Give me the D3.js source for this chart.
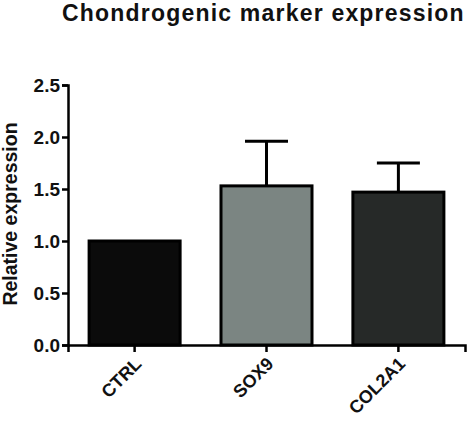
<!DOCTYPE html>
<html>
<head>
<meta charset="utf-8">
<script src="https://cdn.jsdelivr.net/npm/d3@7"></script>
<style>
  body { margin: 0; background: #fff; }
  svg text { font-family: "Liberation Sans", Arial, sans-serif; font-weight: bold; }
</style>
</head>
<body>
<svg id="chart" width="474" height="422"></svg>
<script>
// Chondrogenic marker expression (bar + upper SD)

let categories = ["CTRL", "SOX9", "COL2A1"];
let means = [1.0, 1.53, 1.47];
let errTop = [1.0, 1.96, 1.75];
let fills = ["#0b0b0b", "#7b8582", "#262928"];
let yTicks = [0, 0.5, 1.0, 1.5, 2.0, 2.5];

let data = categories.map(function(c, i) {
    return { name: c, value: means[i], upper: errTop[i], fill: fills[i] };
});

let margin = {top: 85, right: 9, bottom: 77, left: 68},
    width = 474 - margin.left - margin.right,
    height = 422 - margin.top - margin.bottom;

let svg = d3.select("#chart");

let chart = svg.append("g")
    .attr("transform", "translate(" + margin.left + "," + margin.top + ")");

// scales
let xScale = d3.scaleBand()
    .domain(categories)
    .range([0, 397])
    .paddingInner(0.31)
    .paddingOuter(0.16);

let yScale = d3.scaleLinear()
    .domain([0, 2.5])
    .range([height, 0]);

// error bars (upper only) drawn under the bars
let cap = 43;
chart.selectAll(".err")
    .data(data.filter(d => d.upper > d.value))
    .join("g")
    .attr("class", "err")
    .each(function(d) {
        let cx = xScale(d.name) + xScale.bandwidth() / 2;
        let g = d3.select(this);
        g.append("line")
            .attr("x1", cx).attr("x2", cx)
            .attr("y1", yScale(d.value)).attr("y2", yScale(d.upper))
            .attr("stroke", "#000").attr("stroke-width", 3);
        g.append("line")
            .attr("x1", cx - cap / 2).attr("x2", cx + cap / 2)
            .attr("y1", yScale(d.upper)).attr("y2", yScale(d.upper))
            .attr("stroke", "#000").attr("stroke-width", 3);
    });

// bars
chart.selectAll("rect.bar")
    .data(data)
    .join("rect")
    .attr("class", "bar")
    .attr("x", d => xScale(d.name))
    .attr("y", d => yScale(d.value))
    .attr("width", xScale.bandwidth())
    .attr("height", d => height - yScale(d.value))
    .attr("fill", d => d.fill)
    .attr("stroke", "#000")
    .attr("stroke-width", 3);

// y axis
let yAxis = chart.append("g")
    .attr("class", "axis axis-y")
    .call(d3.axisLeft(yScale).tickValues(yTicks).tickFormat(d3.format(".1f")).tickSizeOuter(0).tickSize(6));
yAxis.select(".domain").attr("stroke-width", 2.5);
yAxis.selectAll(".tick line").attr("stroke-width", 2.5);
yAxis.selectAll(".tick text")
    .attr("x", -8)
    .attr("dy", "0.36em")
    .style("font-size", "19px")
    .attr("fill", "#111");

// x axis
let xAxis = chart.append("g")
    .attr("class", "axis axis-x")
    .attr("transform", "translate(0," + height + ")")
    .call(d3.axisBottom(xScale).tickSizeOuter(0).tickSize(7));
xAxis.select(".domain").attr("stroke-width", 2.5);
xAxis.selectAll(".tick line").attr("stroke-width", 2.5);
xAxis.selectAll(".tick text")
    .style("font-size", "18px")
    .attr("fill", "#111")
    .attr("text-anchor", "end")
    .attr("dy", null)
    .attr("y", 0)
    .attr("transform", "translate(8,20) rotate(-45)");

// y title
svg.append("text")
    .attr("transform", "translate(17,214) rotate(-90)")
    .attr("text-anchor", "middle")
    .style("font-size", "19.5px")
    .attr("fill", "#111")
    .text("Relative expression");

// title
svg.append("text")
    .attr("x", 62)
    .attr("y", 21)
    .style("font-size", "23px")
    .style("letter-spacing", "1.2px")
    .attr("fill", "#111")
    .text("Chondrogenic marker expression");
</script>
</body>
</html>
